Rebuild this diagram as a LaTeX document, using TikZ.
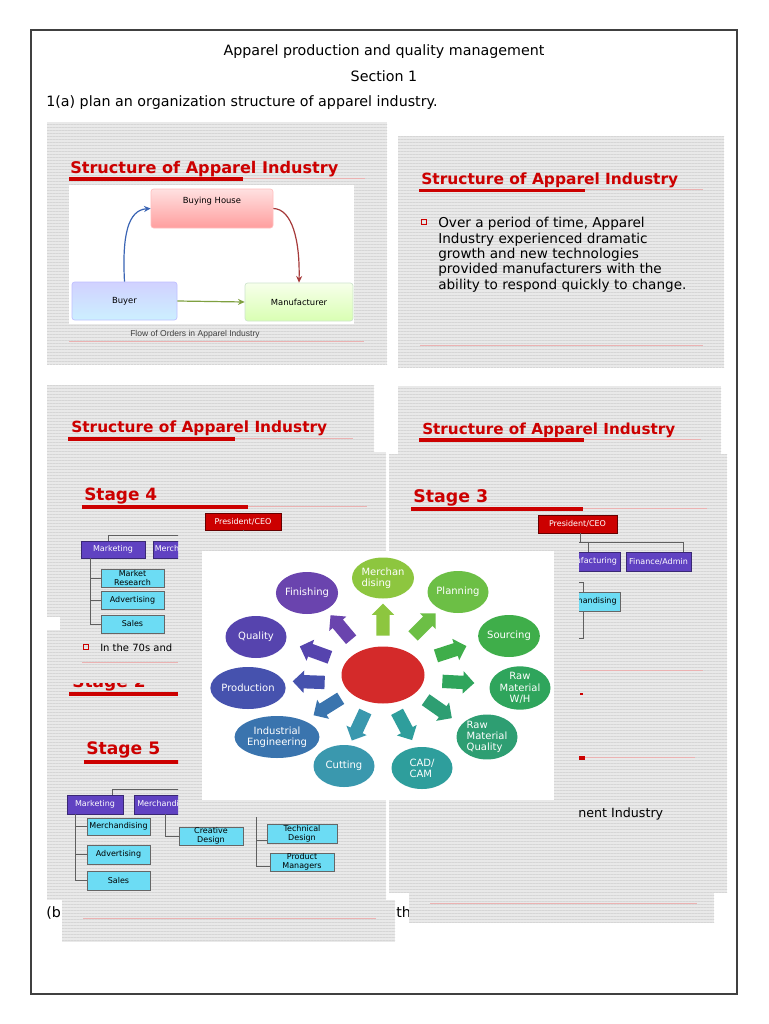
\documentclass[tikz,border=0pt]{standalone}
\usepackage{fontspec}
\setmainfont{DejaVu Sans}
\newfontfamily\arialf{Liberation Sans}
\usepackage{graphicx}
\usetikzlibrary{shapes.geometric,shapes.arrows,arrows.meta,patterns.meta,calc}
\definecolor{slidegray}{HTML}{E9E9E9}
\definecolor{slideline}{HTML}{D6D6D6}
\definecolor{tred}{HTML}{CC0000}
\definecolor{tpink}{HTML}{EBB2B2}
\definecolor{pbox}{HTML}{6042C2}
\definecolor{cbox}{HTML}{6CDCF4}
\definecolor{arrblue}{HTML}{3A64B4}
\definecolor{arrred}{HTML}{A63A3A}
\definecolor{arrgreen}{HTML}{7FA040}
\definecolor{cMer}{HTML}{8DC63F}
\definecolor{cPla}{HTML}{6CBF45}
\definecolor{cSou}{HTML}{3FAE4A}
\definecolor{cRwh}{HTML}{2FA55C}
\definecolor{cRq}{HTML}{2E9E72}
\definecolor{cCad}{HTML}{2E9E9C}
\definecolor{cCut}{HTML}{3A98AE}
\definecolor{cIe}{HTML}{3A74AE}
\definecolor{cPro}{HTML}{4652AE}
\definecolor{cQua}{HTML}{5644AE}
\definecolor{cFin}{HTML}{6A44AE}
\definecolor{cCtr}{HTML}{D42A2A}
\newcommand\fsz[2]{\fontsize{#1}{#2}\selectfont}
\tikzset{
  slidebg/.style={fill=slidegray, postaction={pattern={Lines[angle=0,distance=2.25pt,line width=0.55pt]}, pattern color=slideline}},
  doctext/.style={anchor=base, inner sep=0pt, font=\fsz{10.7}{13}},
  ttl/.style={anchor=base west, inner sep=0pt, text=tred, font=\bfseries},
  ulthick/.style={draw=tred, line width=2.8pt},
  ulthin/.style={draw=tpink, line width=0.5pt},
  sz/.style 2 args={minimum width=#1*0.75pt, minimum height=#2*0.75pt},
  orgtxt/.style={font=\fsz{6}{6.6}, inner sep=0pt, align=center},
  pb/.style={orgtxt, draw=pbox!60!black, fill=pbox, text=white, line width=0.5pt},
  cb/.style={orgtxt, draw=gray!80!black, fill=cbox, text=black, line width=0.5pt},
  rb/.style={orgtxt, draw=red!40!black, fill=tred, text=white, line width=0.5pt},
  oline/.style={draw=gray!75!black, line width=0.6pt},
  flowbox/.style={rounded corners=2pt, line width=0.5pt, font=\fsz{6.3}{7}},
  flowarr/.style={-{Stealth[length=5pt,width=4.5pt]}, line width=0.9pt},
  ell/.style={ellipse, inner sep=0pt, text=white, font=\fsz{7.5}{8.4}, align=center},
  barr/.style={single arrow, inner xsep=0pt, inner ysep=4.8pt, minimum height=24pt, single arrow head extend=3.4pt},
  bsq/.style={draw=tred, line width=0.6pt, minimum size=3.75pt, inner sep=0pt},
}
\begin{document}
\begin{tikzpicture}[x=0.75pt,y=-0.75pt]
\useasboundingbox (0,0) rectangle (768,1024);
\fill[white] (0,0) rectangle (768,1024);
\draw[line width=0.9pt, draw=black!75] (31,30) rectangle (737,994);

% header
\node[doctext] (h1) at (384,55.7) {Apparel production and quality management};
\node[doctext] (h2) at (384,81) {Section 1};
\node[doctext, anchor=base west] (h3) at (46,106.7) {1(a) plan an organization structure of apparel industry.};

% ---------- slide 1
\path[slidebg] (47,122) rectangle (387,364);
\node[ttl] (t1) at (70,173.7) {\resizebox{201pt}{!}{Structure of Apparel Industry}};
\draw[ulthin] (243,178) -- (365,178);
\draw[ulthick] (69,179) -- (243,179);
\fill[white] (69,185) rectangle (354,324);
\node[flowbox, sz={122}{39}, draw=red!25, top color=red!12, bottom color=red!38!white] (bh) at (212,208.5) {};
\node[font=\fsz{6.3}{7}, inner sep=0pt] (bht) at (212,201) {Buying House};
\node[flowbox, sz={105}{38}, draw=blue!25, top color=blue!18!white, bottom color=blue!30!cyan!20!white] (buyer) at (124.5,301) {Buyer};
\node[flowbox, sz={108}{38}, draw=green!30!gray!30, top color=green!40!yellow!8, bottom color=green!50!yellow!30!white] (mf) at (299,302) {Manufacturer};
\draw[flowarr, draw=arrblue] (buyer.north) .. controls (122,235) and (128,210) .. (bh.west);
\draw[flowarr, draw=arrred] (bh.east) .. controls (292,209) and (300,240) .. (mf.north);
\draw[flowarr, draw=arrgreen] (buyer.east) -- (mf.west);
\node[font=\arialf\fsz{6.4}{7}, text=black!75, inner sep=0pt] (cap) at (195,334) {Flow of Orders in Apparel Industry};
\draw[ulthin] (69,341) -- (364,341);

% ---------- slide 2
\path[slidebg] (398,136) rectangle (724,367);
\node[ttl] (t2) at (421,184) {\resizebox{192.75pt}{!}{Structure of Apparel Industry}};
\draw[ulthin] (585,189.5) -- (703,189.5);
\node[bsq] (b2) at (424,221.7) {};
\draw[ulthick] (419,190.5) -- (585,190.5);
\begin{scope}[every node/.style={anchor=base west, inner sep=0pt, font=\fsz{10.2}{12}}]
\node (l1) at (438,227.7) {Over a period of time, Apparel};
\node (l2) at (438,243) {Industry experienced dramatic};
\node (l3) at (438,258.3) {growth and new technologies};
\node (l4) at (438,273.6) {provided manufacturers with the};
\node (l5) at (438,289) {ability to respond quickly to change.};
\end{scope}
\draw[ulthin] (420,345) -- (703,345);

% ---------- slides A and E
\path[slidebg] (47,385) rectangle (374,452);
\node[ttl] (tA) at (71,432.7) {\resizebox{192pt}{!}{Structure of Apparel Industry}};
\draw[ulthin] (235,438.5) -- (353,438.5);
\draw[ulthick] (68,439) -- (235,439);
\path[slidebg] (398,386) rectangle (721,455);
\node[ttl] (tE) at (422,434) {\resizebox{189.75pt}{!}{Structure of Apparel Industry}};
\draw[ulthin] (584,439.5) -- (701,439.5);
\draw[ulthick] (419,440) -- (584,440);

% text line partly covered
\node[doctext, anchor=base west] (bq) at (46,917) {(b};
\node[doctext, anchor=base west] (bthe) at (396,917) {the};

% ---------- left stage slides
\path[slidebg] (47,452) rectangle (386,900);
\fill[white] (47,617) rectangle (60,630);

% Stage 4
\begin{scope}
\clip (47,452) -- (386,452) -- (386,531) -- (178,531) -- (178,672) -- (47,672) -- cycle;
\node[ttl] (s4) at (84,500) {\resizebox{54.75pt}{!}{Stage 4}};
\draw[ulthin] (248,506.5) -- (367,506.5);
\draw[ulthick] (82,507) -- (248,507);
\node[rb, sz={76}{17}] (ceo4) at (243,521.5) {President/CEO};
\node[pb, sz={64}{17}] (mk4) at (113,549.5) {Marketing};
\node[pb, sz={64}{17}, anchor=west] (me4) at (153,549.5) {};
\node[orgtxt, text=white, anchor=west] (me4t) at (154.5,549.5) {Merchandising};
\coordinate (j4) at ($(mk4.north)+(-5,-5)$);
\draw[oline] (mk4.north -| j4) -- (j4) -- (j4 -| ceo4.south) -- (ceo4.south);
\coordinate (v4) at ($(mk4.south west)+(10,0)$);
\node[cb, sz={63}{18}] (mr4) at (132.5,578) {Market\\Research};
\node[cb, sz={63}{18}] (ad4) at (132.5,600) {Advertising};
\node[cb, sz={63}{18}] (sa4) at (132.5,624) {Sales};
\draw[oline] (v4) |- (sa4.west);
\draw[oline] (v4 |- mr4.west) -- (mr4.west);
\draw[oline] (v4 |- ad4.west) -- (ad4.west);
\node[bsq] (b4) at (86,647) {};
\node[anchor=base west, inner sep=0pt, font=\fsz{7.5}{9}] (i70) at (100,651.7) {In the 70s and};
\draw[ulthin] (82,662) -- (178,662);
\end{scope}

% Stage 2 (mostly hidden)
\begin{scope}
\clip (47,683) rectangle (178,700);
\node[ttl] (s2) at (72,687) {\resizebox{55pt}{!}{Stage 2}};
\draw[ulthick] (69,694) -- (178,694);
\end{scope}

% Stage 5
\begin{scope}
\clip (47,700) -- (178,700) -- (178,815) -- (386,815) -- (386,900) -- (47,900) -- cycle;
\node[ttl] (s5) at (86,754) {\resizebox{55.5pt}{!}{Stage 5}};
\draw[ulthick] (84,762) -- (200,762);
\node[pb, sz={56}{19}] (mk5) at (95,804.5) {Marketing};
\node[pb, sz={56}{19}, anchor=west] (me5) at (134,804.5) {};
\node[orgtxt, text=white, anchor=west] (me5t) at (137,804.5) {Merchandising};
\coordinate (j5) at ($(mk5.north)+(17,-5)$);
\draw[oline] (j5 |- mk5.north) -- (j5) -- ++(120,0);
\coordinate (v5) at ($(mk5.south west)+(8.5,0)$);
\node[cb, sz={63}{17}] (md5) at (118.5,826.5) {Merchandising};
\node[cb, sz={63}{19}] (ad5) at (118.5,854.5) {Advertising};
\node[cb, sz={63}{19}] (sa5) at (118.5,880.5) {Sales};
\draw[oline] (v5) |- (sa5.west);
\draw[oline] (v5 |- md5.west) -- (md5.west);
\draw[oline] (v5 |- ad5.west) -- (ad5.west);
\node[cb, sz={64}{18}] (cd5) at (211,836) {Creative\\Design};
\draw[oline] ($(me5.south west)+(31,0)$) |- (cd5.west);
\node[cb, sz={70}{19}] (td5) at (302,833.5) {Technical\\Design};
\node[cb, sz={64}{18}] (pm5) at (302,862) {Product\\Managers};
\coordinate (v5b) at (256,817);
\draw[oline] (v5b) |- ($(pm5.west)+(0,4)$);
\draw[oline] ($(v5b |- td5.south west)+(0,-3)$) -- ($(td5.south west)+(0,-3)$);
\end{scope}

% ---------- right stage slide
\path[slidebg] (389,454) rectangle (727,893);
\begin{scope}
\clip (389,454) -- (727,454) -- (727,893) -- (579,893) -- (579,537) -- (389,537) -- cycle;
\node[ttl] (s3) at (413,502) {\resizebox{56.25pt}{!}{Stage 3}};
\draw[ulthin] (583,508.5) -- (707,508.5);
\draw[ulthick] (411,509) -- (583,509);
\node[rb, sz={79}{18}] (ceo3) at (577.5,524) {President/CEO};
\node[pb, sz={65}{19}] (mf3) at (588,561.5) {Manufacturing};
\node[pb, sz={65}{19}] (fa3) at (658.5,561.5) {Finance/Admin};
\coordinate (j3) at ($(ceo3.south)+(2.5,9)$);
\draw[oline] (ceo3.south -| j3) -- (j3) -| ($(fa3.north)+(24.5,0)$);
\draw[oline] (j3) -- ++(-60,0);
\draw[oline] (mf3.north) -- (mf3.north |- j3);
\coordinate (k1) at (583,582);
\coordinate (k2) at (583,638);
\draw[oline] ($(k1)+(-20,0)$) -- (k1) -- (k2) -- ++(-20,0);
\node[cb, sz={65}{19}] (mh3) at (587.5,601.5) {Merchandising};
\draw[ulthin] (580,670) -- (703,670);
\fill[tred] (580,693) rectangle (583,695);
\fill[tred] (579,755.5) rectangle (585,759.5);
\draw[ulthin] (585,757) -- (695,757);
\node[anchor=base west, inner sep=0pt, font=\fsz{9.5}{11}] (gi) at (578,817.5) {nent Industry};
\end{scope}

% bottom strips
\path[slidebg] (62,900) rectangle (395,942);
\draw[ulthin] (83,918) -- (376,918);
\path[slidebg] (409,893) rectangle (714,923);
\draw[ulthin] (430,903) -- (697,903);

% ---------- circle diagram image
\fill[white] (202,551) rectangle (554,800);
\node[ellipse, sz={83}{57}, fill=cCtr, inner sep=0pt] (ctr) at (383,675) {};
\node[ell, sz={62}{41}, fill=cMer, align=left] (e1) at (383,578) {Merchan\\dising};
\node[ell, sz={61}{42}, fill=cPla] (e2) at (458,592) {Planning};
\node[ell, sz={61}{42}, fill=cSou] (e3) at (509,636) {Sourcing};
\node[ell, sz={61}{42}, fill=cRwh] (e4) at (520,688) {Raw\\Material\\W/H};
\node[ell, sz={61}{42}, fill=cRq, align=left] (e5) at (487,737) {Raw\\Material\\Quality};
\node[ell, sz={61}{42}, fill=cCad, align=left] (e6) at (422,768) {CAD/\\CAM};
\node[ell, sz={61}{42}, fill=cCut] (e7) at (344,766) {Cutting};
\node[ell, sz={67}{42}, fill=cIe] (e8) at (277,737) {Industrial\\Engineering};
\node[ell, sz={73}{42}, fill=cPro] (e9) at (248,688) {Production};
\node[ell, sz={61}{42}, fill=cQua] (e10) at (256,637) {Quality};
\node[ell, sz={61}{42}, fill=cFin] (e11) at (307,593) {Finishing};
\node[barr, fill=cMer, rotate=90] (a1) at (383,623) {};
\node[barr, fill=cPla, rotate=45] (a2) at (422,627) {};
\node[barr, fill=cSou, rotate=18] (a3) at (448,652) {};
\node[barr, fill=cRwh, rotate=-3] (a4) at (455,682) {};
\node[barr, fill=cRq, rotate=-35] (a5) at (436,707) {};
\node[barr, fill=cCad, rotate=-62] (a6) at (403,723) {};
\node[barr, fill=cCut, rotate=-115] (a7) at (360,723) {};
\node[barr, fill=cIe, rotate=-148] (a8) at (330,705) {};
\node[barr, fill=cPro, rotate=178] (a9) at (312,682) {};
\node[barr, fill=cQua, rotate=160] (a10) at (318,653) {};
\node[barr, fill=cFin, rotate=130] (a11) at (343,630) {};
\end{tikzpicture}
\end{document}
